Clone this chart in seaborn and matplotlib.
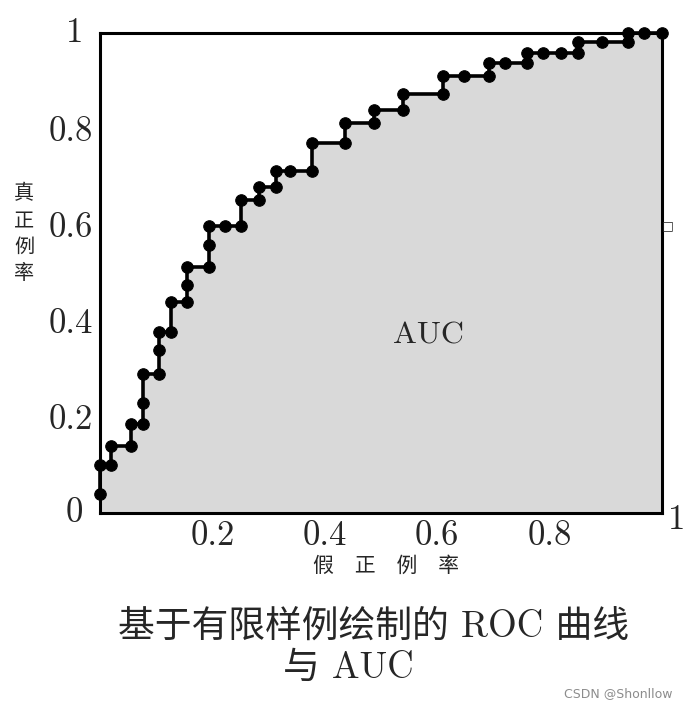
import numpy as np
import pandas as pd
import matplotlib
matplotlib.use("Agg")
import matplotlib.pyplot as plt
import seaborn as sns

# ROC points (false positive rate, true positive rate)
fpr = [0, 0, 0.02, 0.02, 0.055, 0.055, 0.077, 0.077, 0.077, 0.105,
       0.105, 0.105, 0.127, 0.127, 0.155, 0.155, 0.155, 0.194, 0.194, 0.194,
       0.222, 0.25, 0.25, 0.283, 0.283, 0.313, 0.313, 0.338, 0.377, 0.377,
       0.436, 0.436, 0.488, 0.488, 0.539, 0.539, 0.61, 0.61, 0.648, 0.692,
       0.692, 0.72, 0.76, 0.76, 0.788, 0.82, 0.85, 0.85, 0.893, 0.94,
       0.94, 0.968, 1.0]
tpr = [0.04, 0.10, 0.10, 0.14, 0.14, 0.185, 0.185, 0.23, 0.29, 0.29,
       0.34, 0.378, 0.378, 0.44, 0.44, 0.475, 0.512, 0.512, 0.558, 0.598,
       0.598, 0.598, 0.652, 0.652, 0.68, 0.68, 0.713, 0.713, 0.713, 0.771,
       0.771, 0.813, 0.813, 0.839, 0.839, 0.874, 0.874, 0.911, 0.911, 0.911,
       0.938, 0.938, 0.938, 0.958, 0.958, 0.958, 0.958, 0.982, 0.982, 0.982,
       1.0, 1.0, 1.0]

x_ticks = [0.2, 0.4, 0.6, 0.8]
y_ticks = [0.2, 0.4, 0.6, 0.8]
tick_labels = ["0.2", "0.4", "0.6", "0.8"]

xlabel = "假　正　例　率"
ylabel = "真\n正\n例\n率"
title_1 = "基于有限样例绘制的 ROC 曲线"
title_2 = "与 AUC"

df = pd.DataFrame({"fpr": fpr, "tpr": tpr})

sns.set_style("white")
serif = ["cmr10", "Noto Sans CJK SC"]
cjk = ["Noto Sans CJK SC"]
plt.rcParams["axes.unicode_minus"] = False

fig = plt.figure(figsize=(6.87, 7.09), dpi=100)
ax = fig.add_axes([0.1456, 0.2764, 0.818, 0.677])

# shaded area under the curve
ax.fill_between(fpr, tpr, color="#d9d9d9", linewidth=0)

sns.lineplot(data=df, x="fpr", y="tpr", sort=False, estimator=None, errorbar=None,
             color="black", linewidth=2.6, marker="o", markersize=8.3,
             markeredgecolor="black", ax=ax, clip_on=False)

ax.set_xlim(0, 1)
ax.set_ylim(0, 1)
for s in ax.spines.values():
    s.set_color("black")
    s.set_linewidth(2.2)
    s.set_visible(True)

ax.set_xticks(x_ticks)
ax.set_yticks(y_ticks)
ax.set_xticklabels(tick_labels, fontsize=25, family=serif)
ax.set_yticklabels(tick_labels, fontsize=25, family=serif)
ax.tick_params(direction="in", length=8, width=1.8, color="black", pad=5)
ax.set_xlabel("")
ax.set_ylabel("")

# corner labels
ax.text(-0.03, 0, "0", transform=ax.transAxes, ha="right", va="center", fontsize=25, family=serif)
ax.text(-0.03, 1, "1", transform=ax.transAxes, ha="right", va="center", fontsize=25, family=serif)
ax.text(1.01, -0.015, "1", transform=ax.transAxes, ha="left", va="center", fontsize=25, family=serif)

ax.text(0.585, 0.369, "AUC", ha="center", va="center", fontsize=23, family=serif)

fig.text(386 / 687, 1 - 566 / 709, xlabel, ha="center", va="center", fontsize=15, family=cjk)
fig.text(24 / 687, 1 - 234 / 709, ylabel, ha="center", va="center", fontsize=14.5,
         family=cjk, linespacing=1.35)
fig.text(118 / 687, 1 - 626 / 709, title_1, ha="left", va="center", fontsize=26.5, family=serif)
fig.text(283 / 687, 1 - 668 / 709, title_2, ha="left", va="center", fontsize=26.5, family=serif)
fig.text(672 / 687, 1 - 694 / 709, "CSDN @Shonllow", ha="right", va="center", fontsize=9,
         color="#8c8c8c", family=["DejaVu Sans"])

# small square mark at the right edge
fig.text(668 / 687, 1 - 226 / 709, "□", ha="center", va="center", fontsize=9, family=["DejaVu Sans"])

fig.savefig("out.png", dpi=100, facecolor="white")
